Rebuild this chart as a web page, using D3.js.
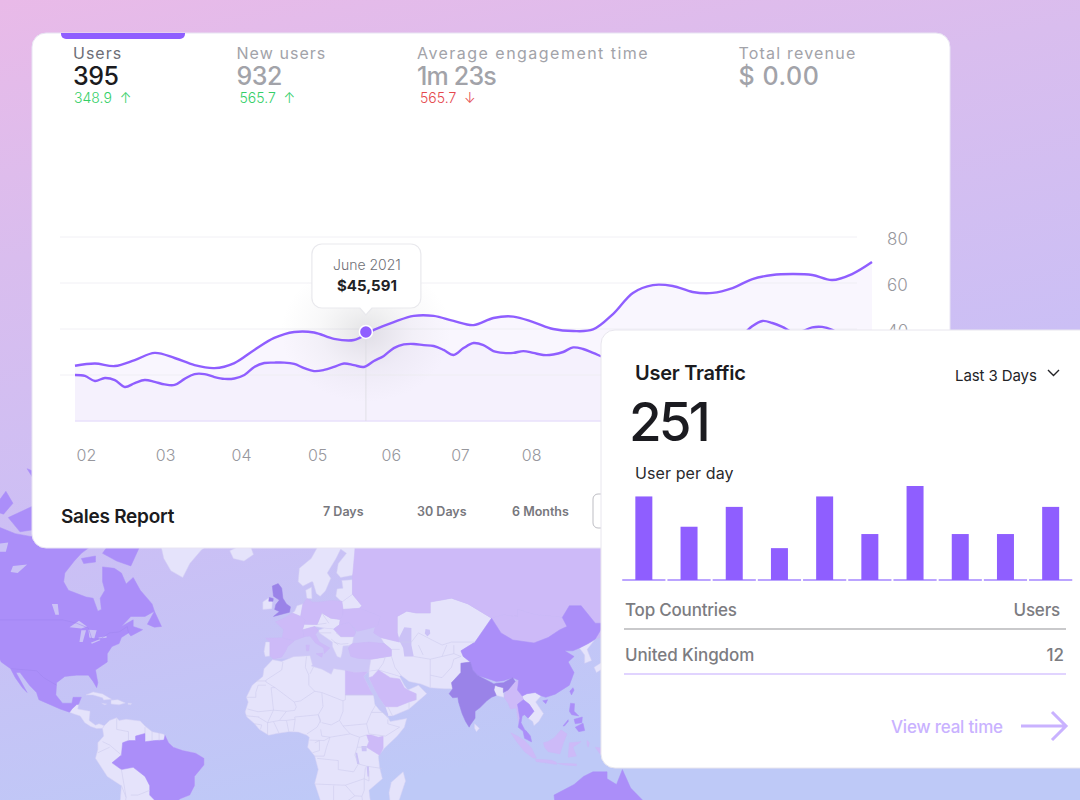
<!DOCTYPE html>
<html>
<head>
<meta charset="utf-8">
<script src="https://cdn.jsdelivr.net/npm/d3@7"></script>
<style>
  html, body { margin: 0; padding: 0; background: #fff; overflow: hidden; }
  svg { display: block; font-family: Inter, "Noto Sans", sans-serif; }
  text { font-kerning: normal; white-space: pre; }
</style>
</head>
<body>
<svg id="chart" width="1080" height="800"></svg>
<script>
// sessions, sampled evenly over the visible period
const upperValues = [24, 25, 23.9, 26.5, 29.6, 27.4, 24.3, 23, 25.2, 30.9, 36.1, 38.7, 38.5, 35.7, 35.2, 39.6, 43, 45.7, 45.7, 43.5, 41.7,
  44.8, 45.4, 43, 40, 39.1, 39.8, 46.5, 55.7, 59.1, 58.7, 56.1, 55.7, 57.8, 61.7, 63.5, 63.9, 63.5, 61.3, 63.9, 69.1]
const lowerValues = [20, 19.6, 17.4, 18.7, 17.8, 14.8, 16.5, 17.8, 17, 15.9, 15.7, 18.3, 20.4, 20.4, 19.1, 18.3, 18.5, 20, 23.5, 25.2, 25.4,
  25.4, 24.8, 23, 21.7, 22.2, 23.5, 25, 24.3, 23.5, 26.1, 28.3, 31.7, 33.3, 33.5, 33, 32.6, 30.9, 28.7, 31.7, 33.9,
  33, 30.4, 29.6, 29.6, 30.4, 29.6, 28.7, 28.9, 30, 32, 31.3, 29.6, 27.8, 26.1, 24.8, 25.7, 27.4, 28.3, 29.1, 27.8,
  26.5, 27.4, 28.7, 30.9, 33, 34.8, 37.4, 41.3, 43.5, 42.6, 40.9, 38.7, 39.1, 40.7, 40.9, 39.6, 37, 35.2, 33.9, 33]
const xTickLabels = ['02', '03', '04', '05', '06', '07', '08']
const xTickAt = [0.6, 4.57, 8.38, 12.2, 15.9, 19.37, 22.94]
const yTicks = [0, 20, 40, 60, 80]
const hoverAt = 14.6
const hoverValue = 38.7

const barLabels = ['1', '2', '3', '4', '5', '6', '7', '8', '9', '10']
const barValues = [8, 5.1, 7, 3.05, 8, 4.4, 9, 4.4, 4.4, 7]

const tabs = ['Users', 'New users', 'Average engagement time', 'Total revenue']
const tabValues = ['395', '932', '1m 23s', '$ 0.00']
const tabDeltas = ['348.9  ↑', '565.7  ↑', '565.7  ↓', '']
const ranges = ['7 Days', '30 Days', '6 Months']

// background map, lon/lat outlines traced by hand. rough, only meant to read as the world
const seaShapes = [
  [[-6, 35.8], [-5.5, 36.2], [-2, 36.8], [0.5, 40.5], [3.2, 42.5], [7.5, 44], [10, 44.5], [13.6, 46], [19.5, 42], [24, 41], [28, 41.5], [28.5, 44], [30, 46], [34, 46.5], [38, 47.5], [41.5, 42], [36, 40], [36.5, 36], [35, 31], [29, 30.5], [25, 31], [19, 30], [15, 31.5], [10, 33], [10, 37.5], [3, 36.5]]
]
const landPale = [
  // greenland, iceland
  [[-53, 66], [-52, 64], [-49, 61.5], [-44, 60], [-41, 63], [-36, 65.7], [-24, 69], [-20, 75], [-20, 82], [-60, 82], [-55, 75]],
  [[-24, 65.5], [-20, 66.3], [-15, 66], [-14, 64.8], [-18, 63.5], [-22.5, 64]],
  // central america and the caribbean
  [[-92, 14.6], [-91, 16], [-89, 17.9], [-88.2, 18], [-88.5, 16], [-83.3, 15], [-83.7, 11], [-81, 8.9], [-79.5, 9.5], [-77.3, 8.6], [-78, 7.5], [-80.5, 7.4], [-83, 8.3], [-85.5, 10], [-87.5, 13], [-90, 13.8]],
  [[-85, 22], [-82, 23.2], [-78, 22.4], [-74.2, 20.2], [-77.5, 19.9], [-78, 20.8], [-82, 22]],
  [[-74.4, 19.8], [-71.5, 20], [-68.4, 18.6], [-71, 17.8], [-74.4, 18.2]],
  [[-78.3, 18.4], [-76.3, 18.2], [-77, 17.8]],
  [[-67.2, 18.5], [-65.7, 18.4], [-66, 17.9], [-67.2, 18]],
  // south america
  [[-77.3, 8.6], [-75, 11], [-72, 12.2], [-71, 11], [-68, 11.5], [-62, 10.7], [-60, 8.5], [-57, 6], [-52, 4.8], [-50, 1], [-48, -1], [-44, -2.5], [-38.5, -3.7], [-35, -6], [-35, -9], [-39, -14], [-39, -18], [-41, -22], [-45, -23.5], [-48.5, -26], [-53, -33.5], [-58, -34.5], [-57, -38], [-65, -41], [-68, -50], [-72, -52], [-74, -45], [-73, -37], [-71, -30], [-70, -18], [-76, -14], [-81, -6], [-80, -2], [-80, 1], [-77.5, 4], [-78, 7.5]],
  // africa
  [[-5.9, 35.8], [-2, 35.2], [3, 36.9], [10, 37.3], [11, 34], [10.5, 33.5], [15, 32.3], [19, 30.3], [20, 32.5], [25, 31.8], [29, 31], [32.5, 31.2], [34.3, 31.2], [32.7, 29.5], [35.5, 23.9], [37, 21.5], [37.5, 18], [39.5, 15.5], [43, 12.5], [44, 10.5], [51, 11.8], [50, 8], [47, 4], [41.5, -1.5], [39, -5], [39.5, -10], [40.7, -15], [35, -20], [35.5, -24], [32.5, -28], [28, -33], [20, -34.8], [18, -32], [15, -26], [12, -17], [13.5, -11], [12, -5], [9, -1], [9.7, 3.5], [8.5, 4.5], [5, 5.8], [1, 6], [-4, 5.2], [-7.5, 4.4], [-11.5, 7], [-13.5, 9.5], [-16.8, 12.5], [-17.5, 14.7], [-16.2, 19], [-17, 21], [-14.5, 26], [-10, 29.5], [-9.5, 32.5]],
  [[49.5, -12], [50.5, -16], [47.5, -25], [44, -25], [43.5, -21], [44.5, -16.5]],
  // europe
  [[-8.8, 42], [-7, 42], [-7, 37.2], [-9, 37], [-9.5, 38.8]],
  [[2.5, 51], [6, 50], [7, 53.5], [4.5, 53], [3.5, 51.5]],
  [[8.2, 57], [10.6, 57.7], [10.8, 54.9], [8.7, 54.9]],
  [[6.8, 46], [7.5, 47.7], [13, 47.6], [15, 51], [18.8, 49.5], [22.8, 49.1], [22.5, 47.5], [20, 46.2], [16, 46.5], [12, 47], [7, 46]],
  [[24, 52], [23.5, 54], [28, 56], [32, 53], [31, 52.3]],
  [[21, 55.5], [23.5, 54], [28, 56], [28, 59.5], [23.5, 59.3], [24, 57.5], [21.5, 57.3]],
  [[16, 46.5], [20, 46.2], [23, 43.8], [28.5, 43.8], [28, 41.5], [26.3, 40.8], [24, 40.7], [23.5, 38], [23, 36.5], [21.5, 37], [19.5, 40.5], [19.5, 42], [14, 45], [13.6, 45.8]],
  [[5, 59], [7, 58], [10.5, 59], [11.2, 59], [12.7, 56.2], [14.3, 55.5], [16.5, 56.8], [18.8, 59.8], [17.3, 61], [21, 64], [23, 65.8], [25.5, 65], [22, 63], [21.3, 61], [23, 60], [28, 60.5], [30, 62.5], [29, 66], [29, 69.5], [25, 71], [18, 69.5], [13, 66], [10.5, 64], [5.5, 62]],
  [[-10, 52], [-6.2, 52.2], [-6, 54], [-7.3, 55.2], [-10, 54]],
  // middle east and central asia
  [[47, 50], [51, 51.5], [55, 51], [61, 51], [61, 54], [70, 55], [77, 53.5], [87, 49.5], [80, 42], [74, 39], [75, 37], [78, 35], [74, 34.5], [74, 31], [70, 27], [70.5, 24.5], [67, 24.5], [61, 25], [57, 26.5], [52, 27.5], [48.5, 30], [48, 29.5], [39, 32], [35, 31.5], [35.8, 36], [44.5, 37.2], [44.5, 39.5], [41.5, 41.5], [40, 43.5], [48, 42], [47, 45], [47, 48]],
  [[35, 29], [39, 21], [43, 13], [45, 13], [52, 16], [59.5, 22.5], [56, 26], [51.5, 24], [50, 26], [48, 29.5], [39, 32], [35, 31.5]],
  // south and east asia
  [[79.8, 9.5], [81.8, 7.5], [80.6, 6], [79.8, 7.5]],
  [[88, 26], [89.8, 25.5], [92, 25], [92, 23], [92.3, 21], [89, 21.8], [88, 24]],
  [[100, 21.5], [102, 22.5], [105.5, 23], [108, 21.6], [105.7, 19], [109, 14], [107, 10.5], [105, 8.7], [104.5, 10.5], [102.5, 12], [105, 15], [103, 18], [100.5, 20]],
  [[124.3, 40], [128, 41.5], [130.5, 42.5], [127.5, 39.5], [129.4, 35.5], [126.5, 34.5], [126.5, 37.5]],
  [[130.5, 33], [135, 35.5], [140, 38], [141.5, 41], [142, 37], [140, 35], [136, 33.5], [131.5, 31]]
]
const landLilac = [
  // russia and mongolia
  [[28, 60], [28, 56], [32, 53], [31, 52.3], [40, 50], [38.5, 47], [37.5, 46.5], [37, 45], [40, 43.5], [48, 42], [47, 45], [47, 50], [51, 51.5], [55, 51], [61, 51], [61, 54], [70, 55], [77, 53.5], [87, 49.5], [92, 50.5], [98, 50], [98, 52], [106, 50.5], [114, 50], [117, 49.7], [120, 53], [125, 53], [131, 48], [135, 48], [131, 43], [135, 44], [140, 50], [140, 60], [180, 65], [180, 80], [30, 80], [30, 70]],
  [[87, 49.5], [92, 50.5], [98, 50], [98, 52], [106, 50.5], [114, 50], [117, 49.7], [119, 47], [116, 46], [111, 43.5], [105, 41.7], [96, 42.7], [91, 45]],
  // africa
  [[25, 31.8], [29, 31], [32.5, 31.2], [34.3, 31.2], [32.7, 29.5], [35.5, 23.9], [36.9, 22], [25, 22]],
  [[34, 4.5], [36, 4.5], [39, 3.5], [41, 3.9], [41, -1.5], [39.5, -4.6], [34, -1], [35, 1.5]],
  // europe
  [[-8.8, 43.3], [-1.8, 43.4], [3.2, 42.3], [0.5, 40.5], [-0.3, 39], [-2, 36.8], [-5.5, 36.1], [-7, 37.2], [-7, 42]],
  [[-1.8, 43.4], [3.2, 42.5], [7.5, 43.7], [6.8, 46], [7.5, 47.7], [8, 49], [6, 50], [2.5, 51], [-1.5, 49.3], [-4.7, 48.4], [-1.2, 46]],
  [[6, 50], [8, 49], [7.5, 47.7], [13, 47.6], [15, 51], [18.8, 49.5], [22.8, 49.1], [24, 50.6], [24, 52], [23.5, 54.2], [19, 54.4], [14.2, 54], [11, 54], [8.7, 54.9], [7, 53.5]],
  [[7, 46], [12, 47], [13.6, 45.8], [12.3, 44.5], [14, 42], [18.4, 40], [16, 38], [15.8, 40], [12.3, 41.7], [10, 44], [7.5, 43.8]],
  [[12.5, 38], [15.5, 38.2], [15, 36.7]],
  [[8.3, 41], [9.7, 41], [9.5, 39], [8.5, 39]],
  [[24, 50.6], [24, 52], [31, 52.3], [40, 50], [38.5, 47], [33, 46], [30, 45.5], [26.5, 48.2], [22.5, 47.5], [22.8, 49.1]],
  [[22.5, 47.5], [26.5, 48.2], [29.5, 45.3], [28.5, 43.8], [23, 43.8], [20, 46.2]],
  [[26.2, 40], [28, 41.5], [35, 42], [41.5, 41.5], [44.5, 39.5], [44.5, 37.2], [36.2, 36], [30.5, 36.3], [27.3, 37]],
  // arabia
  [[35, 29], [36.5, 29.5], [39, 32], [44, 29], [48, 28.5], [50, 25], [51.5, 24], [55, 22.5], [55, 20], [52, 19], [47, 17], [43.5, 17], [42, 17], [39, 21]],
  // south east asia
  [[92.3, 21], [93, 24], [94, 24], [97, 27.5], [98.5, 28], [98, 24], [100, 21.5], [100.5, 20], [98, 18], [99, 12], [98.5, 10], [97.5, 16.5], [95, 16], [94, 18.5]],
  [[95.2, 5.5], [98, 4], [101, 2], [104, -1.5], [106, -5.8], [104.5, -5.8], [101, -3], [98, 1]],
  [[105.5, -6.5], [108.5, -6.5], [112.5, -6.8], [114.5, -7.8], [114.5, -8.7], [110, -8], [106, -7.5]],
  [[115, -8.3], [119, -8.3], [123, -8.5], [123, -9.3], [118, -9]],
  [[109, 1], [111, 1.6], [113.5, 3.2], [116.5, 6.8], [119, 5], [117.5, 1], [116, -4], [111, -3], [109.5, -1]],
  [[119.5, -5.5], [120, 1], [125, 1.5], [121.5, -1], [123, -5]],
  [[127.5, 2], [128.5, 1], [128, -1], [127.5, 0]],
  [[131, -1], [138, -2], [145, -5], [150, -10], [141, -9], [137, -5], [133, -4]]
]
const landPurple = [
  // north america
  [[-130, 70], [-125, 70], [-115, 68.5], [-108, 68], [-96, 68], [-94, 71.5], [-88, 68.5], [-82, 69.5], [-81.5, 66.8], [-87, 65], [-90, 63.5], [-94, 61], [-94.5, 59], [-92.5, 57], [-85, 55.3], [-82, 55], [-80, 51.5], [-78.5, 52], [-79, 55], [-77, 57], [-78, 59], [-78, 62.3], [-73, 62], [-70, 61], [-68, 58.5], [-65, 60], [-62, 57], [-57, 53.5], [-56, 51.5], [-60, 50], [-66, 50], [-70, 47], [-65, 49], [-65, 47], [-61, 46], [-66, 44], [-67, 45], [-70, 43.5], [-71, 41.5], [-74, 40.5], [-76, 38], [-76, 35], [-81, 32], [-80, 27], [-80.5, 25], [-82, 27.5], [-84, 30], [-89, 30], [-94, 29.5], [-97.5, 27], [-97.8, 22], [-95, 18.5], [-91, 18.5], [-90.5, 21], [-87, 21], [-88.2, 18], [-89, 17.9], [-91, 16], [-92, 14.6], [-96, 16], [-105, 20], [-106, 23], [-109, 26], [-113, 31], [-114.7, 31], [-110, 23], [-112, 25], [-115, 29], [-117, 32.5], [-121, 35], [-124, 40], [-125, 48], [-130, 54], [-140, 60]],
  [[-59, 47.7], [-56, 51.5], [-53, 47], [-56, 46.8]],
  [[-118, 71], [-105, 73], [-101, 69.5], [-113, 68.8]],
  [[-125, 72], [-119, 74.5], [-116, 73], [-120, 71.5]],
  [[-90, 73.5], [-76, 73], [-68, 70], [-62, 66.5], [-66, 62.5], [-72, 63.5], [-78, 65], [-73, 68], [-85, 70]],
  [[-87, 64], [-81, 64.5], [-81, 63.3], [-86, 63]],
  [[-110, 77], [-100, 76], [-94, 75], [-104, 74.5]],
  // brazil
  [[-60, 5.2], [-60, 1.5], [-56, 2], [-52, 2.2], [-51.5, 4.3], [-50, 1], [-48, -1], [-44, -2.5], [-38.5, -3.7], [-35, -6], [-35, -9], [-39, -14], [-39, -18], [-41, -22], [-45, -23.5], [-48.5, -26], [-53, -33.5], [-57.5, -30], [-54, -26], [-58, -22], [-58, -18], [-60, -14], [-65, -10], [-70, -11], [-74, -8], [-70, -4.5], [-69.5, 1], [-67, 2], [-64, 2], [-64, 4]],
  // china
  [[74, 39], [80, 42], [87, 49.5], [91, 45], [96, 42.7], [105, 41.7], [111, 43.5], [116, 46], [119, 47], [117, 49.7], [120, 53], [125, 53], [131, 48], [135, 48], [131, 43], [128, 41.5], [124.3, 40], [121.5, 39], [118, 39], [122, 37], [119.5, 35], [122, 31], [120, 26], [114, 22.3], [110, 21], [108, 21.6], [105.5, 23], [102, 22.5], [100, 21.5], [98, 24], [98.5, 28], [96, 29], [92, 27.8], [89, 27.5], [81, 30], [79, 32], [78, 35], [75, 37]],
  [[108.7, 19.5], [110.8, 20], [110, 18.3]],
  [[120.2, 23.5], [121.5, 25], [122, 24], [120.9, 22]],
  // thailand, malay peninsula, philippines
  [[98, 18], [100.5, 20], [103, 18], [105, 15], [102.5, 12], [101, 13.5], [100, 13], [99.5, 10], [101, 7], [102, 6], [100, 6.5], [98.3, 8], [99, 12]],
  [[100.3, 6.5], [102, 6], [103.5, 4], [104, 1.4], [101, 3]],
  [[120.5, 18.5], [122.2, 18.3], [122, 15], [124, 13], [121, 13.5], [120, 15]],
  [[122, 11.5], [125.5, 12.5], [125.3, 10], [122.5, 9.5]],
  [[122.5, 8], [125.8, 9.8], [126.5, 6.5], [124, 6]],
  [[117.3, 8.5], [119.5, 11.3], [119.5, 10.5], [118, 8.6]],
  // australia
  [[113.5, -22], [122, -17.5], [126, -14], [130, -12], [136, -12], [136, -15], [140, -17.5], [142.5, -11], [146, -19], [153, -26], [150, -37], [143, -39], [135, -34], [124, -33], [115, -34]]
]
const landDeep = [
  // uk
  [[-5.5, 50], [1.3, 51.2], [1.7, 52.7], [0, 53.5], [-1.5, 55], [-2, 57.5], [-3.5, 58.6], [-6, 58], [-5.5, 55.5], [-3, 54.5], [-4.5, 53.3], [-5, 52], [-3, 51.4]],
  [[-7.3, 55.2], [-5.6, 54.9], [-5.7, 54.2], [-7.5, 54.2]],
  // india
  [[74, 34.5], [78, 35], [79, 32], [81, 30], [88, 26.5], [89, 26.8], [92, 27], [96, 29], [97, 27.5], [94, 24], [92, 23], [92, 25], [89.8, 25.5], [88.5, 26], [88, 24], [89, 21.8], [87, 21], [85, 19.5], [82, 16.5], [80, 15], [80, 12], [78, 9], [77.5, 8], [76, 10.5], [74.5, 14], [73, 19], [72.7, 21], [70.5, 20.8], [69, 22.5], [70.5, 24.5], [70, 27], [74, 31]]
]
const lakeShapes = [
  [[-92, 46.8], [-88, 48.7], [-84.6, 47], [-87, 46.4]],
  [[-87.8, 42], [-87, 45.8], [-85, 45.8], [-86.4, 42]],
  [[-84, 46], [-80.5, 45.8], [-81.5, 43.2], [-83.6, 43.5]],
  [[-83, 41.8], [-79, 43], [-79, 42.6], [-82.5, 41.4]],
  [[-79.8, 43.4], [-76.3, 44], [-76.3, 43.4], [-79.5, 43.2]],
  [[-122, 66.8], [-118, 67], [-119, 65.3], [-123, 65.3]],
  [[-116, 62.5], [-110, 62.8], [-114, 61], [-117, 61.2]],
  [[-99.5, 53.5], [-97, 53.5], [-96.5, 50.5], [-98, 50.5]],
  [[50, 46.8], [53, 46.5], [53, 41], [54, 37], [50, 37], [49.5, 40], [47.5, 43]],
  [[59, 46.2], [60.8, 46], [61, 44.8], [59.8, 43.8], [58.7, 44.8]],
  [[31.8, -0.5], [34, -0.5], [34, -2.8], [32, -2.8]],
  [[29.2, -3.5], [30, -3.5], [31, -8.5], [30, -8.5]],
  [[34, -9.5], [35, -9.5], [35, -14], [34.4, -14]]
]
const redSea = [[35.5, 24], [37.5, 21], [38, 18], [40, 15.5], [43, 12.6], [43.2, 13.5], [42, 17], [39.2, 21], [35.3, 28]]
const usBorder = [[-125, 49], [-95, 49], [-89, 48], [-84, 46.5], [-82.5, 43], [-79, 43], [-75, 45], [-71, 45.3], [-67.5, 47], [-67, 45]]
const mexBorder = [[-117, 32.5], [-106, 31.7], [-103, 29], [-97.5, 26]]
// country borders over the pale land
const borders = [
  [[-1.5, 35], [-2, 32], [-8.7, 28], [-8.7, 27.3]], [[-13, 27.7], [-8.7, 27.7]], [[-8.7, 27.3], [-4.8, 25], [-6.5, 25], [-5.5, 15.5], [-12, 14.8], [-16.5, 16]],
  [[-17, 21], [-13, 21], [-13, 23], [-12, 26], [-8.7, 26]], [[-4.8, 25], [3.3, 19], [4.2, 16.9], [3.5, 15.4], [0, 15], [-5.5, 15.5]],
  [[3.3, 19], [6, 19.5], [12, 23.5], [9.5, 26], [9.5, 30], [8, 33], [8.5, 37]], [[10, 30.5], [11.5, 33.2]], [[12, 23.5], [15, 23], [24, 19.5], [25, 20], [25, 22]],
  [[15, 23], [15.5, 17], [13.5, 13.5], [14.5, 10]], [[3, 6.3], [3.7, 11.5], [3.5, 12.5], [13.5, 13.5], [14.5, 11], [13, 8], [8.7, 5]],
  [[24, 19.5], [24, 15], [22.5, 11], [19, 9], [15, 10]], [[25, 22], [37, 22]], [[24, 8.5], [34, 9.5]],
  [[14.5, 7], [15, 4], [18.5, 3.5], [27, 5], [24, 8.5], [22.5, 11]], [[27, 5], [31, 3.5], [30, -1], [29, -4.5], [30.5, -8.5], [28.5, -12], [22, -11], [22, -7], [13, -6]],
  [[9.8, 2.2], [16, 2], [18.5, 3.5], [17, -1], [16, -5], [12, -5]], [[12, 1], [14, 2], [14, -2.5], [11, -3.5]],
  [[34, 9.5], [36, 14.5], [38, 18]], [[36, 14.5], [41, 14.5], [43, 12]], [[34, 9.5], [35, 5], [42, 4], [48, 8], [43, 9.5], [43, 11.5]],
  [[31, 3.5], [34, 4.5]], [[30, -1], [34, -1]], [[30.5, -8.5], [34, -9.5], [40.5, -10.5]],
  [[12, -17.3], [24, -17.8], [25, -17.8], [33, -15], [33.5, -10]], [[20, -18], [20, -28.5], [16.5, -28.5]], [[20, -25], [25, -25], [29, -22.3], [32, -22.5], [32.5, -26]],
  [[33, -15], [33, -20], [32, -22.5]], [[35, -11.5], [35, -16], [33, -15]], [[25, -17.8], [29, -22.3]],
  [[-8, 4.5], [-8, 10], [-5.5, 10.5], [-3, 5]], [[-5.5, 10.5], [-3, 11], [0, 11], [1, 6]], [[0, 11], [3.7, 11.5]], [[-3, 11], [0, 15]],
  [[-12, 12.5], [-8, 10]], [[-13.5, 9.5], [-10.5, 9], [-11, 7]], [[-16.8, 13], [-11.5, 12.5]], [[-8, 10], [-5.5, 15.5]],
  [[-60, 5.2], [-60, 8]], [[-57, 6], [-57, 2]], [[-54, 5.5], [-54, 2]], [[-72, 12], [-72, 7], [-67, 6], [-67, 2]],
  [[-78, 1.5], [-75, 0], [-70, -4.5]], [[-80, -3.5], [-75, -1]], [[-70, -18], [-68, -23], [-70, -33], [-72, -50]], [[-70, -11], [-69, -17], [-68, -23]], [[-58, -20], [-63, -22], [-66, -22]],
  [[48.5, 42], [53, 42], [56, 45], [61, 43], [66, 41], [70, 42], [80, 42]], [[54, 37], [61, 36], [66, 37], [71, 38], [74, 37]], [[61, 36], [61, 31], [61, 25]], [[61, 30], [66, 29], [70, 33], [71, 36], [74, 37]],
  [[56, 41], [58, 37.5]], [[66, 37], [68, 41]], [[71, 38], [71, 41]], [[44.5, 37.2], [46, 33], [48.5, 30]], [[39, 32], [41, 34.5], [42, 37]],
  [[44.5, 39.5], [48, 39.5]], [[52, 16], [52, 19]], [[55, 20], [55, 22.5]], [[43, 17], [45, 13]],
  [[14, 45], [19, 45]], [[19, 43], [22, 41]], [[21, 45], [23, 43.8]], [[20, 42], [23, 41.3], [26.3, 41.5]], [[15, 51], [18, 48]], [[13, 47.6], [17, 48]]
]

const svg = d3.select('#chart')
const defs = svg.append('defs')

const bg = defs.append('linearGradient').attr('id', 'bg').attr('x1', 0).attr('y1', 0).attr('x2', 0.3).attr('y2', 1)
bg.append('stop').attr('offset', 0).attr('stop-color', '#e9bae8')
bg.append('stop').attr('offset', 0.3).attr('stop-color', '#d9bdee')
bg.append('stop').attr('offset', 0.65).attr('stop-color', '#cbbff5')
bg.append('stop').attr('offset', 1).attr('stop-color', '#bec9f7')

const glow = defs.append('radialGradient').attr('id', 'glow')
glow.append('stop').attr('offset', 0).attr('stop-color', '#8d8d96').attr('stop-opacity', 0.24)
glow.append('stop').attr('offset', 0.55).attr('stop-color', '#a5a5ad').attr('stop-opacity', 0.08)
glow.append('stop').attr('offset', 1).attr('stop-color', '#b0b0b8').attr('stop-opacity', 0)

svg.append('rect').attr('width', 1080).attr('height', 800).attr('fill', 'url(#bg)')

// map. the original is a mercator squeezed a little vertically
const mercY = lat => Math.log(Math.tan(Math.PI / 4 + Math.min(lat, 84) * Math.PI / 360))
const lonScale = d3.scaleLinear().domain([-121.5, 133]).range([0, 600])
const latScale = d3.scaleLinear().domain([0, mercY(54)]).range([745, 602])
const mapPath = d3.geoPath(d3.geoTransform({
  point(lon, lat) { this.stream.point(lonScale(lon), latScale(mercY(lat))) },
}))
const ring = pts => ({ type: 'Polygon', coordinates: [pts.concat([pts[0]])] })

const map = svg.append('g').attr('class', 'map')
const drawLand = (shapes, fill, stroke) => map.append('g').selectAll('path')
  .data(shapes)
  .join('path')
  .attr('d', d => mapPath(ring(d)))
  .attr('fill', fill)
  .attr('stroke', stroke)
  .attr('stroke-width', 0.5)

drawLand(seaShapes, '#cdc7f7', 'none')
drawLand(landPale, '#e5e3fb', '#d6d3f4')
drawLand(landLilac, '#cdbaf8', '#cbb8f6')
drawLand(landPurple, '#ab8ef9', '#ab8ef9')
drawLand(landDeep, '#9a83e8', '#9a83e8')
drawLand(lakeShapes, '#cbc2f6', 'none')
drawLand([redSea], '#c6c6f6', 'none')

map.append('g').selectAll('path')
  .data(borders)
  .join('path')
  .attr('d', d => mapPath({ type: 'LineString', coordinates: d }))
  .attr('fill', 'none')
  .attr('stroke', '#cfcdee')
  .attr('stroke-width', 0.6)
map.append('g').selectAll('path')
  .data([usBorder, mexBorder])
  .join('path')
  .attr('d', d => mapPath({ type: 'LineString', coordinates: d }))
  .attr('fill', 'none')
  .attr('stroke', '#9f85ee')
  .attr('stroke-width', 0.5)

// sales card
svg.append('rect').attr('x', 32).attr('y', 33).attr('width', 918).attr('height', 515).attr('rx', 14)
  .attr('fill', '#fff').attr('stroke', '#e8e4f3')
svg.append('path').attr('d', 'M61 33H185V34a5 5 0 0 1 -5 5H66a5 5 0 0 1 -5 -5Z').attr('fill', '#8f5eff')

const tabX = d3.scaleOrdinal().domain(tabs).range([73, 236.5, 417, 738.5])
const tabSpacing = d3.scaleOrdinal().domain(tabs).range([1, 1.05, 1.47, 1.2])
const valueSpacing = d3.scaleOrdinal().domain(tabs).range([-0.4, -0.4, -0.8, 0.6])
const tabG = svg.append('g').selectAll('g').data(tabs).join('g')
  .attr('transform', d => `translate(${tabX(d)},0)`)
tabG.append('text').text(d => d).attr('y', 59).attr('font-size', 16).attr('letter-spacing', d => tabSpacing(d))
  .attr('fill', (d, i) => i == 0 ? '#6e6e76' : '#a2a3a9')
tabG.append('text').text((d, i) => tabValues[i]).attr('y', 85).attr('font-size', 25).attr('font-weight', 500).attr('letter-spacing', d => valueSpacing(d))
  .attr('fill', (d, i) => i == 0 ? '#1b1b20' : '#a2a3a9')
tabG.append('text').text((d, i) => tabDeltas[i]).attr('y', 103).attr('x', (d, i) => i == 0 ? 1 : 3).attr('font-size', 14).attr('font-weight', 300)
  .attr('fill', (d, i) => i == 2 ? '#e5484d' : '#34cf68')

// line chart
const x = d3.scaleLinear().domain([0, 40]).range([75, 872])
const y = d3.scaleLinear().domain([0, 80]).range([421, 237])

const upperPts = upperValues.map((v, i) => [i, v])
const lowerPts = lowerValues.map((v, i) => [i / 2, v])
const area = d3.area().x(d => x(d[0])).y0(y(0)).y1(d => y(d[1])).curve(d3.curveCatmullRom)
const line = d3.line().x(d => x(d[0])).y(d => y(d[1])).curve(d3.curveCatmullRom)

svg.append('path').attr('d', area(upperPts)).attr('fill', '#f9f6fe')
svg.append('path').attr('d', area(lowerPts)).attr('fill', '#f5f1fd')

svg.append('g').selectAll('line').data(yTicks.slice(1)).join('line')
  .attr('x1', 60).attr('x2', 857).attr('y1', d => y(d)).attr('y2', d => y(d))
  .attr('stroke', '#efeef3').attr('stroke-width', 1).attr('opacity', 0.8)
svg.append('line').attr('x1', 75).attr('x2', 872).attr('y1', y(0)).attr('y2', y(0)).attr('stroke', '#e8e1fb').attr('stroke-width', 1.5)

svg.append('ellipse').attr('cx', x(hoverAt)).attr('cy', y(hoverValue)).attr('rx', 85).attr('ry', 70).attr('fill', 'url(#glow)')
svg.append('line').attr('x1', x(hoverAt)).attr('x2', x(hoverAt)).attr('y1', y(hoverValue)).attr('y2', y(0)).attr('stroke', '#dcdce2').attr('stroke-width', 0.8)

svg.append('path').attr('d', line(upperPts)).attr('fill', 'none').attr('stroke', '#8f5eff').attr('stroke-width', 2.4)
svg.append('path').attr('d', line(lowerPts)).attr('fill', 'none').attr('stroke', '#8f5eff').attr('stroke-width', 2.4)

const xAxis = d3.axisBottom(x).tickValues(xTickAt).tickSize(0).tickPadding(0)
  .tickFormat((d, i) => xTickLabels[i])
const xAxisG = svg.append('g').attr('transform', 'translate(-1,461)').call(xAxis).attr('font-family', null)
xAxisG.select('.domain').remove()
xAxisG.selectAll('text').attr('font-size', 16).attr('font-weight', 300).attr('fill', '#97979d').attr('dy', 0).attr('y', 0)

const yAxis = d3.axisRight(y).tickValues(yTicks).tickSize(0).tickPadding(0)
const yAxisG = svg.append('g').attr('transform', 'translate(887,2)').call(yAxis).attr('font-family', null)
yAxisG.select('.domain').remove()
yAxisG.selectAll('text').attr('font-size', 17).attr('font-weight', 300).attr('fill', '#97979d')

// hover dot and tooltip
const hx = x(hoverAt), hy = y(hoverValue)
svg.append('circle').attr('cx', hx).attr('cy', hy).attr('r', 6.5).attr('fill', '#8f5eff').attr('stroke', '#fff').attr('stroke-width', 1.5)
const tip = svg.append('g').attr('transform', `translate(${hx},${hy})`)
tip.append('path')
  .attr('d', 'M-54 -78a10 10 0 0 1 10 -10H45a10 10 0 0 1 10 10V-34a10 10 0 0 1 -10 10H6L0 -17L-6 -24H-44a10 10 0 0 1 -10 -10Z')
  .attr('fill', '#fff').attr('stroke', '#e9e9ed').attr('stroke-width', 1.2)
tip.append('text').text('June 2021').attr('x', 1).attr('y', -61.5).attr('text-anchor', 'middle').attr('font-size', 14).attr('font-weight', 300).attr('fill', '#6f6f76')
tip.append('text').text('$45,591').attr('x', 1).attr('y', -41).attr('text-anchor', 'middle').attr('font-size', 15).attr('font-weight', 700).attr('fill', '#222226')

// footer of the sales card
svg.append('text').text('Sales Report').attr('x', 61).attr('y', 522.5).attr('font-size', 19).attr('font-weight', 600).attr('letter-spacing', -0.25).attr('fill', '#1b1b20')
const rangeX = d3.scaleOrdinal().domain(ranges).range([323, 417, 512])
svg.append('g').selectAll('text').data(ranges).join('text').text(d => d)
  .attr('x', d => rangeX(d)).attr('y', 516).attr('font-size', 12.5).attr('font-weight', 600).attr('fill', '#77777d')
svg.append('rect').attr('x', 593).attr('y', 494).attr('width', 60).attr('height', 34).attr('rx', 5).attr('fill', '#fff').attr('stroke', '#bdbdc3')

// traffic card
svg.append('rect').attr('x', 601).attr('y', 330).attr('width', 500).attr('height', 438).attr('rx', 14)
  .attr('fill', '#fff').attr('stroke', '#e8e6ee')
svg.append('text').text('User Traffic').attr('x', 635).attr('y', 379.5).attr('font-size', 20).attr('font-weight', 600).attr('letter-spacing', -0.25).attr('fill', '#1b1b20')
svg.append('text').text('Last 3 Days').attr('x', 955).attr('y', 381).attr('font-size', 15).attr('letter-spacing', -0.1).attr('fill', '#232327')
svg.append('path').attr('d', 'M1048 370l5.5 5.5l5.5 -5.5').attr('fill', 'none').attr('stroke', '#232327').attr('stroke-width', 1.4)
svg.append('text').text('251').attr('x', 629).attr('y', 441).attr('font-size', 53).attr('font-weight', 500).attr('letter-spacing', -2.8).attr('fill', '#1b1b20')
svg.append('text').text('User per day').attr('x', 635).attr('y', 479).attr('font-size', 16).attr('letter-spacing', 0.1).attr('fill', '#29292d')

const bx = d3.scaleBand().domain(barLabels).range([626.3, 1068.2]).paddingInner(0.624).paddingOuter(0.2)
const by = d3.scaleLinear().domain([0, 9]).range([580, 486])
const step = bx.step()
svg.append('g').selectAll('line').data(barLabels).join('line')
  .attr('x1', d => bx(d) + bx.bandwidth() / 2 - step / 2 + 1)
  .attr('x2', d => bx(d) + bx.bandwidth() / 2 + step / 2 - 1)
  .attr('y1', by(0)).attr('y2', by(0))
  .attr('stroke', '#a586ff').attr('stroke-width', 1.3)
svg.append('g').selectAll('rect').data(barValues).join('rect')
  .attr('x', (d, i) => bx(barLabels[i]))
  .attr('y', d => by(d))
  .attr('width', bx.bandwidth())
  .attr('height', d => by(0) - by(d))
  .attr('fill', '#8f5eff')

svg.append('text').text('Top Countries').attr('x', 625).attr('y', 616).attr('font-size', 17).attr('font-weight', 500).attr('letter-spacing', -0.2).attr('fill', '#7c7c81')
svg.append('text').text('Users').attr('x', 1060).attr('y', 616).attr('text-anchor', 'end').attr('font-size', 17).attr('font-weight', 500).attr('letter-spacing', -0.2).attr('fill', '#7c7c81')
svg.append('line').attr('x1', 624).attr('x2', 1066).attr('y1', 629).attr('y2', 629).attr('stroke', '#949498').attr('stroke-width', 1.2)
svg.append('text').text('United Kingdom').attr('x', 625).attr('y', 661).attr('font-size', 17).attr('font-weight', 500).attr('letter-spacing', -0.1).attr('fill', '#7c7c81')
svg.append('text').text('12').attr('x', 1064).attr('y', 661).attr('text-anchor', 'end').attr('font-size', 17).attr('font-weight', 500).attr('fill', '#7c7c81')
svg.append('line').attr('x1', 624).attr('x2', 1066).attr('y1', 674).attr('y2', 674).attr('stroke', '#c4a9ff').attr('stroke-width', 1.2)
svg.append('text').text('View real time').attr('x', 891).attr('y', 733).attr('font-size', 17).attr('font-weight', 500).attr('letter-spacing', -0.2).attr('fill', '#c9b2ff')
svg.append('path').attr('d', 'M1021 726H1066M1052 712L1066 726L1052 740').attr('fill', 'none').attr('stroke', '#c9b2ff').attr('stroke-width', 3)
</script>
</body>
</html>
